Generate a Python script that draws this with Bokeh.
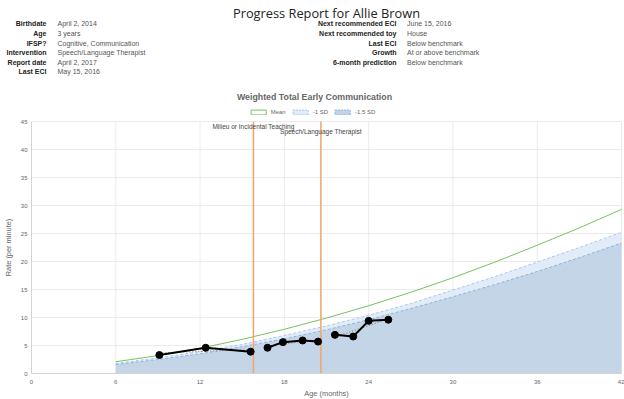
import math
from bokeh.plotting import figure
from bokeh.models import Range1d, FixedTicker, Legend, LegendItem, ColumnDataSource
from bokeh.embed import file_html
from bokeh.resources import INLINE
from bokeh.core.properties import value

# ---------------- data ----------------
report_title = "Progress Report for Allie Brown"
left_labels = ["Birthdate", "Age", "IFSP?", "Intervention", "Report date", "Last ECI"]
left_values = ["April 2, 2014", "3 years", "Cognitive, Communication",
               "Speech/Language Therapist", "April 2, 2017", "May 15, 2016"]
right_labels = ["Next recommended ECI", "Next recommended toy", "Last ECI",
                "Growth", "6-month prediction"]
right_values = ["June 15, 2016", "House", "Below benchmark",
                "At or above benchmark", "Below benchmark"]

chart_title = "Weighted Total Early Communication"
x_label = "Age (months)"
y_label = "Rate (per minute)"
legend_labels = ["Mean", "-1 SD", "-1.5 SD"]
x_ticks = [0, 6, 12, 18, 24, 30, 36, 42]
y_ticks = [0, 5, 10, 15, 20, 25, 30, 35, 40, 45]

bench_age = [6, 9, 12, 15, 18, 21, 24, 27, 30, 33, 36, 39, 42]
mean_rate = [2.1, 3.2, 4.5, 6.1, 7.9, 9.9, 12.1, 14.5, 17.1, 19.9, 22.9, 26.0, 29.3]
sd1_rate = [1.8, 2.8, 3.9, 5.2, 6.8, 8.5, 10.4, 12.5, 14.9, 17.3, 19.9, 22.5, 25.2]
sd15_rate = [1.6, 2.5, 3.5, 4.8, 6.2, 7.8, 9.6, 11.6, 13.7, 15.9, 18.2, 20.7, 23.3]

interventions = ["Milieu or Incidental Teaching", "Speech/Language Therapist"]
intervention_age = [15.8, 20.6]

ages = [9.1, 12.4, 15.6, 16.8, 17.9, 19.3, 20.4, 21.6, 22.9, 24.0, 25.4]
rates = [3.3, 4.6, 3.9, 4.6, 5.6, 5.9, 5.7, 6.9, 6.6, 9.4, 9.6]
phase = [0, 0, 0, 1, 1, 1, 1, 2, 2, 2, 2]

trend_x0 = [9.1, 16.8, 21.6]
trend_y0 = [3.66, 4.91, 6.51]
trend_x1 = [15.6, 20.4, 25.4]
trend_y1 = [4.27, 6.01, 9.76]

# ---------------- styles / layout ----------------
FONT = "Liberation Sans"
GREEN = "#78c25f"
SD1_LINE = "#a9c9ef"
SD15_LINE = "#8fb3dd"
LIGHT_FILL = "#e2ecf8"
DARK_FILL = "#c4d5e8"
ORANGE = "#f3a566"
GRID = "#dddddd"

W, H = 624, 399
# the data area occupies page pixels x 31..621, y 121..373
PX_L, PX_R, PY_T, PY_B = 31, 621, 121, 373
XPX = (PX_R - PX_L) / (x_ticks[-1] - x_ticks[0])
YPX = (PY_B - PY_T) / (y_ticks[-1] - y_ticks[0])


def dx(px):  # page x -> data x
    return x_ticks[0] + (px - PX_L) / XPX


def dy(py):  # page y -> data y
    return y_ticks[0] + (PY_B - py) / YPX


p = figure(width=W, height=H, x_range=Range1d(dx(0), dx(W)), y_range=Range1d(dy(H), dy(0)),
           output_backend="svg", toolbar_location=None, min_border=0)
p.outline_line_color = None
p.grid.visible = False
p.xaxis.fixed_location = y_ticks[0]
p.yaxis.fixed_location = x_ticks[0]
p.xaxis.bounds = (x_ticks[0], x_ticks[-1])
p.yaxis.bounds = (y_ticks[0], y_ticks[-1])
p.xaxis.ticker = FixedTicker(ticks=x_ticks)
p.yaxis.ticker = FixedTicker(ticks=y_ticks)
p.axis.axis_line_color = "#d4d4d4"
p.axis.major_tick_line_color = None
p.axis.minor_tick_line_color = None
p.axis.major_tick_out = 0
p.axis.major_tick_in = 0
p.axis.minor_tick_out = 0
p.axis.minor_tick_in = 0
p.axis.major_label_text_font = FONT
p.axis.major_label_text_font_size = "6px"
p.axis.major_label_text_color = "#666666"
p.yaxis.major_label_standoff = 4
p.xaxis.major_label_standoff = 6

# ---- grid lines at the tick values ----
p.segment(x0=x_ticks, y0=[y_ticks[0]] * len(x_ticks), x1=x_ticks, y1=[y_ticks[-1]] * len(x_ticks),
          line_color=GRID, line_alpha=0.6, line_width=1, level="underlay")
p.segment(x0=[x_ticks[0]] * len(y_ticks), y0=y_ticks, x1=[x_ticks[-1]] * len(y_ticks), y1=y_ticks,
          line_color=GRID, line_alpha=0.6, line_width=1, level="underlay")

# ---- header texts ----
p.text(x=[dx(326)], y=[dy(12)], text=[report_title], text_font=value("Open Sans"),
       text_font_size="12.8px", text_align="center", text_baseline="middle",
       text_color="#222222")
row_py = [23.3 + 9.6 * i for i in range(len(left_labels))]
p.text(x=[dx(46)] * len(left_labels), y=[dy(v) for v in row_py], text=left_labels,
       text_font=value(FONT), text_font_size="7px", text_font_style="bold",
       text_align="right", text_baseline="middle", text_color="#222222")
p.text(x=[dx(57)] * len(left_values), y=[dy(v) for v in row_py], text=left_values,
       text_font=value(FONT), text_font_size="7px", text_align="left",
       text_baseline="middle", text_color="#555555")
p.text(x=[dx(396)] * len(right_labels), y=[dy(v) for v in row_py[:len(right_labels)]],
       text=right_labels, text_font=value(FONT), text_font_size="7px",
       text_font_style="bold", text_align="right", text_baseline="middle",
       text_color="#222222")
p.text(x=[dx(406.5)] * len(right_values), y=[dy(v) for v in row_py[:len(right_values)]],
       text=right_values, text_font=value(FONT), text_font_size="7px", text_align="left",
       text_baseline="middle", text_color="#555555")
p.text(x=[dx(314)], y=[dy(96)], text=[chart_title], text_font=value(FONT),
       text_font_size="8.8px", text_font_style="bold", text_align="center",
       text_baseline="middle", text_color="#666666")

# ---- axis titles ----
p.text(x=[dx(8)], y=[(y_ticks[0] + y_ticks[-1]) / 2], text=[y_label], angle=math.pi / 2,
       text_font=value(FONT), text_font_size="7.4px", text_align="center",
       text_baseline="middle", text_color="#666666")
p.text(x=[(x_ticks[0] + x_ticks[-1]) / 2], y=[dy(393)], text=[x_label],
       text_font=value(FONT), text_font_size="7.4px", text_align="center",
       text_baseline="middle", text_color="#666666")

# ---- benchmark bands ----
src = ColumnDataSource(dict(age=bench_age, mean=mean_rate, sd1=sd1_rate, sd15=sd15_rate))
p.varea(x="age", y1=0, y2="sd1", fill_color=LIGHT_FILL, source=src, level="underlay")
p.varea(x="age", y1=0, y2="sd15", fill_color=DARK_FILL, source=src, level="underlay")
p.line("age", "sd1", line_color=SD1_LINE, line_width=1, line_dash="3 2", source=src)
p.line("age", "sd15", line_color=SD15_LINE, line_width=1, line_dash="3 2", source=src)
p.line("age", "mean", line_color=GREEN, line_width=1, source=src)

# ---- legend (swatch renderers carry no visible geometry) ----
nan = float("nan")
r_mean = p.quad(left=[nan], right=[nan], top=[nan], bottom=[nan], fill_color="white",
                line_color=GREEN, line_width=1)
r_sd1 = p.quad(left=[nan], right=[nan], top=[nan], bottom=[nan], fill_color=LIGHT_FILL,
               line_color=SD1_LINE, line_width=1, line_dash="2 1")
r_sd15 = p.quad(left=[nan], right=[nan], top=[nan], bottom=[nan], fill_color=DARK_FILL,
                line_color=SD15_LINE, line_width=1, line_dash="2 1")
legend = Legend(items=[LegendItem(label=legend_labels[0], renderers=[r_mean]),
                       LegendItem(label=legend_labels[1], renderers=[r_sd1]),
                       LegendItem(label=legend_labels[2], renderers=[r_sd15])],
                orientation="horizontal", location="top_center",
                glyph_width=19, glyph_height=6, label_height=6, label_width=0,
                label_standoff=3, spacing=5, padding=0, margin=109,
                label_text_font=FONT, label_text_font_size="6px",
                label_text_color="#666666", border_line_color=None,
                background_fill_alpha=0)
p.add_layout(legend)

# ---- interventions ----
p.segment(x0=intervention_age, y0=[y_ticks[0]] * len(intervention_age),
          x1=intervention_age, y1=[y_ticks[-1]] * len(intervention_age),
          line_color=ORANGE, line_width=1.5)
p.text(x=intervention_age, y=[y_ticks[-1]] * len(interventions), text=interventions,
       y_offset=[5, 10], text_font=value(FONT), text_font_size="6.5px",
       text_align="center", text_baseline="middle", text_color="#444444")

# ---- observations ----
p.segment(x0=trend_x0, y0=trend_y0, x1=trend_x1, y1=trend_y1, line_color="#777777",
          line_width=1, line_dash="1 2")
for ph in sorted(set(phase)):
    xs = [a for a, g in zip(ages, phase) if g == ph]
    ys = [r for r, g in zip(rates, phase) if g == ph]
    p.line(xs, ys, line_color="black", line_width=2)
p.scatter(ages, rates, size=7, fill_color="black", line_color="black")

open("out.html", "w").write(file_html(p, INLINE))
